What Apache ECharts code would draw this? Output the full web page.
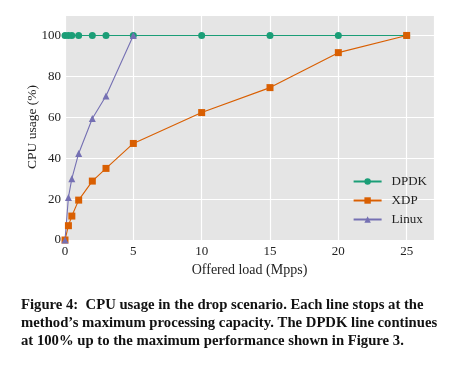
<!DOCTYPE html>
<html><head><meta charset="utf-8">
<script src="https://cdn.jsdelivr.net/npm/echarts@6/dist/echarts.min.js"></script>
<style>html,body{margin:0;padding:0;background:#fff}#c{width:474px;height:377px}</style>
</head><body><div id="c"></div>
<script>
const xTicks = [0, 5, 10, 15, 20, 25];
const dpdkX = [0, 0.25, 0.5, 1, 2, 3, 5, 10, 15, 20, 25];
const dpdkY = [100, 100, 100, 100, 100, 100, 100, 100, 100, 100, 100];
const xdpX = [0, 0.25, 0.5, 1, 2, 3, 5, 10, 15, 20, 25];
const xdpY = [0, 7, 11.7, 19.5, 28.8, 35, 47.2, 62.3, 74.5, 91.6, 100];
const linuxX = [0, 0.25, 0.5, 1, 2, 3, 5];
const linuxY = [0, 20.8, 30, 42.3, 59.4, 70.4, 100];
const yTitle = "CPU usage (%)";
const captionLines = [
  "Figure 4:  CPU usage in the drop scenario. Each line stops at the",
  "method\u2019s maximum processing capacity. The DPDK line continues",
  "at 100% up to the maximum performance shown in Figure 3."
];
const FONT = '"Liberation Serif", "DejaVu Serif", serif';
const zip = (a, b) => a.map((v, i) => [v, b[i]]);
const chart = echarts.init(document.getElementById('c'));
const mk = (name, xs, ys, color, symbol, size) => ({
  name, type: 'line', data: zip(xs, ys), symbol, symbolSize: size,
  itemStyle: {color}, lineStyle: {color, width: 1.1}, z: 3
});
chart.setOption({
  animation: false,
  backgroundColor: '#fff',
  grid: {left: 65, top: 15, right: 40, bottom: 137, show: true, backgroundColor: '#e5e5e5', borderWidth: 0},
  xAxis: {
    type: 'value', min: 0, max: 27, interval: 5,
    name: 'Offered load (Mpps)', nameLocation: 'middle', nameGap: 22,
    nameTextStyle: {fontFamily: FONT, fontSize: 14, color: '#222'},
    axisLine: {show: false}, axisTick: {show: false},
    axisLabel: {fontFamily: FONT, fontSize: 13, color: '#222', margin: 5, showMaxLabel: false},
    splitLine: {show: true, lineStyle: {color: '#fff', width: 1.2}}
  },
  yAxis: {
    type: 'value', min: 0, max: 110, interval: 20,
    axisLine: {show: false}, axisTick: {show: false},
    axisLabel: {fontFamily: FONT, fontSize: 13, color: '#222', margin: 4, showMaxLabel: false},
    splitLine: {show: true, lineStyle: {color: '#fff', width: 1.2}}
  },
  legend: {
    orient: 'vertical', right: 42, top: 170, itemGap: 6,
    itemWidth: 28, itemHeight: 8,
    textStyle: {fontFamily: FONT, fontSize: 13, color: '#222', padding: [0, 0, 0, 5]},
    data: ['DPDK', 'XDP', 'Linux']
  },
  series: [
    mk('DPDK', dpdkX, dpdkY, '#1b9e77', 'circle', 7),
    mk('XDP', xdpX, xdpY, '#d95f02', 'rect', 7),
    mk('Linux', linuxX, linuxY, '#7570b3', 'triangle', 7)
  ],
  graphic: [{
    type: 'text', x: 32, y: 127, rotation: Math.PI / 2,
    style: {text: yTitle, font: '13.5px ' + FONT, fill: '#222', align: 'center', verticalAlign: 'middle'}
  }].concat(captionLines.map((t, i) => ({
    type: 'text', left: 21, top: 298 + i * 18,
    style: {text: t, font: 'bold 14.7px ' + FONT, fill: '#111'}
  })))
});
</script></body></html>
